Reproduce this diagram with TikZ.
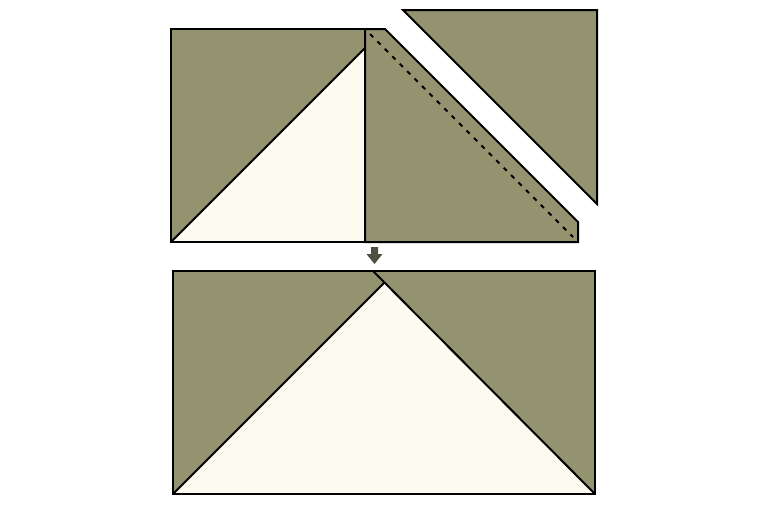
\documentclass[tikz,border=0pt]{standalone}
\definecolor{olive}{RGB}{147,147,112}
\definecolor{cream}{RGB}{253,250,240}
\definecolor{arrowc}{RGB}{80,80,64}
\begin{document}
\begin{tikzpicture}[x=1pt,y=-1pt,
  edge/.style={draw=black,line width=2pt,line join=miter},
  piece/.style={edge,fill=olive}]
\useasboundingbox (0,0) rectangle (768,512);
% top left square
\draw[piece] (171,29) rectangle (365,242);
\fill[cream] (171,242) -- (365,48) -- (365,242) -- cycle;
\draw[edge] (171,242) -- (365,48);
\draw[edge] (171,29) rectangle (365,242);
% right folded piece
\draw[piece] (365,29) -- (385,29) -- (578,222) -- (578,242) -- (365,242) -- cycle;
\draw[black,line width=1.8pt,dash pattern=on 4.5pt off 6pt] (370,34) -- (573,237);
% upper right triangle
\draw[piece] (403,10) -- (597,10) -- (597,204) -- cycle;
% arrow
\fill[arrowc] (371,247) -- (378,247) -- (378,254) -- (382.5,254) -- (374.5,264) -- (366.5,254) -- (371,254) -- cycle;
% bottom rectangle
\draw[piece] (173,271) rectangle (595,494);
\fill[cream] (173,494) -- (384.5,282.5) -- (595,494) -- cycle;
\draw[edge] (173,494) -- (384.5,282.5);
\draw[edge] (373,271) -- (595,494);
\draw[edge] (173,271) rectangle (595,494);
\end{tikzpicture}
\end{document}
